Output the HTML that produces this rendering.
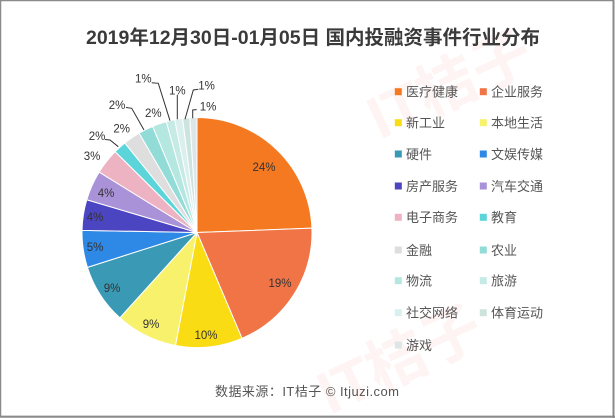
<!DOCTYPE html>
<html><head><meta charset="utf-8"><style>
html,body{margin:0;padding:0;background:#fff;}
body{width:615px;height:418px;overflow:hidden;position:relative;}
svg{position:absolute;left:0;top:0;}
</style></head><body>
<svg width="615" height="418" viewBox="0 0 615 418" xmlns="http://www.w3.org/2000/svg">
<rect x="0" y="0" width="615" height="418" fill="#fff"/>
<!-- faint watermarks -->
<g fill="#fdf4f3" font-family="Liberation Sans, Noto Sans CJK SC, sans-serif" font-weight="bold">
<text x="380" y="140" font-size="60" transform="rotate(-25 380 140)">IT桔子</text>
<text x="330" y="415" font-size="60" transform="rotate(-25 330 415)">IT桔子</text>
</g>
<!-- border -->
<rect x="0.5" y="0.5" width="613" height="416" fill="none" stroke="#8a8a8a" stroke-width="1.5"/>
<line x1="613.5" y1="0" x2="613.5" y2="418" stroke="#8a8a8a" stroke-width="2"/>
<line x1="0" y1="416.8" x2="615" y2="416.8" stroke="#8a8a8a" stroke-width="2"/>

<text x="313" y="44" text-anchor="middle" font-family="Liberation Sans, Noto Sans CJK SC, sans-serif" font-size="19.5" font-weight="bold" fill="#3a3a3a">2019年12月30日-01月05日 国内投融资事件行业分布</text>

<g stroke="#fff" stroke-width="1" stroke-linejoin="round">
<path d="M197,232.5 L197,117.5 A115,115 0 0 1 311.92,228.17 Z" fill="#F47920"/>
<path d="M197,232.5 L311.92,228.17 A115,115 0 0 1 242.01,338.33 Z" fill="#F07446"/>
<path d="M197,232.5 L242.01,338.33 A115,115 0 0 1 175.45,345.46 Z" fill="#FADC14"/>
<path d="M197,232.5 L175.45,345.46 A115,115 0 0 1 119.86,317.79 Z" fill="#F7F16C"/>
<path d="M197,232.5 L119.86,317.79 A115,115 0 0 1 87.41,267.35 Z" fill="#3A9AB6"/>
<path d="M197,232.5 L87.41,267.35 A115,115 0 0 1 82.02,230.33 Z" fill="#2E88E6"/>
<path d="M197,232.5 L82.02,230.33 A115,115 0 0 1 86.77,199.72 Z" fill="#4B45C2"/>
<path d="M197,232.5 L86.77,199.72 A115,115 0 0 1 99.14,172.11 Z" fill="#AA92D8"/>
<path d="M197,232.5 L99.14,172.11 A115,115 0 0 1 115.17,151.70 Z" fill="#EEB3C2"/>
<path d="M197,232.5 L115.17,151.70 A115,115 0 0 1 124.81,142.98 Z" fill="#5CD5DA"/>
<path d="M197,232.5 L124.81,142.98 A115,115 0 0 1 139.08,133.15 Z" fill="#DEDEDE"/>
<path d="M197,232.5 L139.08,133.15 A115,115 0 0 1 152.66,126.39 Z" fill="#92DCD8"/>
<path d="M197,232.5 L152.66,126.39 A115,115 0 0 1 166.31,121.67 Z" fill="#B3E7DF"/>
<path d="M197,232.5 L166.31,121.67 A115,115 0 0 1 174.74,119.67 Z" fill="#C6EAE6"/>
<path d="M197,232.5 L174.74,119.67 A115,115 0 0 1 182.59,118.41 Z" fill="#D9F0EE"/>
<path d="M197,232.5 L182.59,118.41 A115,115 0 0 1 189.78,117.73 Z" fill="#CDE4DE"/>
<path d="M197,232.5 L189.78,117.73 A115,115 0 0 1 197,117.5 Z" fill="#DCE6E6"/>
</g>

<!-- leader lines -->
<g stroke="#333" stroke-width="1" fill="none">
<polyline points="105,139.5 110,140 118.3,146.7"/>
<polyline points="126,107.5 131.7,108.3 144,130"/>
<polyline points="151.7,82.7 158.3,83.3 170,120.7"/>
<polyline points="177.3,95 177.3,119.3"/>
<polyline points="198.3,89.3 193.3,90 185,119.3"/>
<polyline points="196.7,109.6 192.7,110 192.7,118.3"/>
</g>

<g font-family="Liberation Sans, sans-serif" font-size="11.5" fill="#333" text-anchor="middle">
<text x="264" y="171">24%</text>
<text x="280" y="287">19%</text>
<text x="206" y="339">10%</text>
<text x="151" y="328">9%</text>
<text x="112" y="292">9%</text>
<text x="95" y="251">5%</text>
<text x="95" y="221">4%</text>
<text x="106" y="197">4%</text>
<text x="92" y="160">3%</text>
<text x="97" y="140">2%</text>
<text x="121.7" y="132.5">2%</text>
<text x="117" y="109">2%</text>
<text x="153.3" y="117">2%</text>
<text x="143.3" y="82.5">1%</text>
<text x="177.3" y="94.5">1%</text>
<text x="206.5" y="89.5">1%</text>
<text x="208" y="110.5">1%</text>
</g>

<!-- legend -->
<g font-family="Liberation Sans, Noto Sans CJK SC, sans-serif" font-size="13" fill="#555">
<rect x="394.8" y="88.2" width="7" height="7" fill="#F47920"/><text x="406" y="96.5">医疗健康</text>
<rect x="479.8" y="88.2" width="7" height="7" fill="#F07446"/><text x="491" y="96.5">企业服务</text>
<rect x="394.8" y="119.2" width="7" height="7" fill="#FADC14"/><text x="406" y="127.5">新工业</text>
<rect x="479.8" y="119.2" width="7" height="7" fill="#F7F16C"/><text x="491" y="127.5">本地生活</text>
<rect x="394.8" y="150.5" width="7" height="7" fill="#3A9AB6"/><text x="406" y="158.8">硬件</text>
<rect x="479.8" y="150.5" width="7" height="7" fill="#2E88E6"/><text x="491" y="158.8">文娱传媒</text>
<rect x="394.8" y="182.5" width="7" height="7" fill="#4B45C2"/><text x="406" y="190.8">房产服务</text>
<rect x="479.8" y="182.5" width="7" height="7" fill="#AA92D8"/><text x="491" y="190.8">汽车交通</text>
<rect x="394.8" y="213.8" width="7" height="7" fill="#EEB3C2"/><text x="406" y="222.1">电子商务</text>
<rect x="479.8" y="213.8" width="7" height="7" fill="#5CD5DA"/><text x="491" y="222.1">教育</text>
<rect x="394.8" y="246.5" width="7" height="7" fill="#DEDEDE"/><text x="406" y="254.8">金融</text>
<rect x="479.8" y="246.5" width="7" height="7" fill="#92DCD8"/><text x="491" y="254.8">农业</text>
<rect x="394.8" y="277.2" width="7" height="7" fill="#B3E7DF"/><text x="406" y="285.5">物流</text>
<rect x="479.8" y="277.2" width="7" height="7" fill="#C6EAE6"/><text x="491" y="285.5">旅游</text>
<rect x="394.8" y="309.2" width="7" height="7" fill="#D9F0EE"/><text x="406" y="317.5">社交网络</text>
<rect x="479.8" y="309.2" width="7" height="7" fill="#CDE4DE"/><text x="491" y="317.5">体育运动</text>
<rect x="394.8" y="341.5" width="7" height="7" fill="#DCE6E6"/><text x="406" y="349.8">游戏</text>
</g>

<text x="215" y="396" font-family="Liberation Sans, Noto Sans CJK SC, sans-serif" font-size="13" fill="#555" textLength="184">数据来源：IT桔子 © Itjuzi.com</text>
</svg>
</body></html>
